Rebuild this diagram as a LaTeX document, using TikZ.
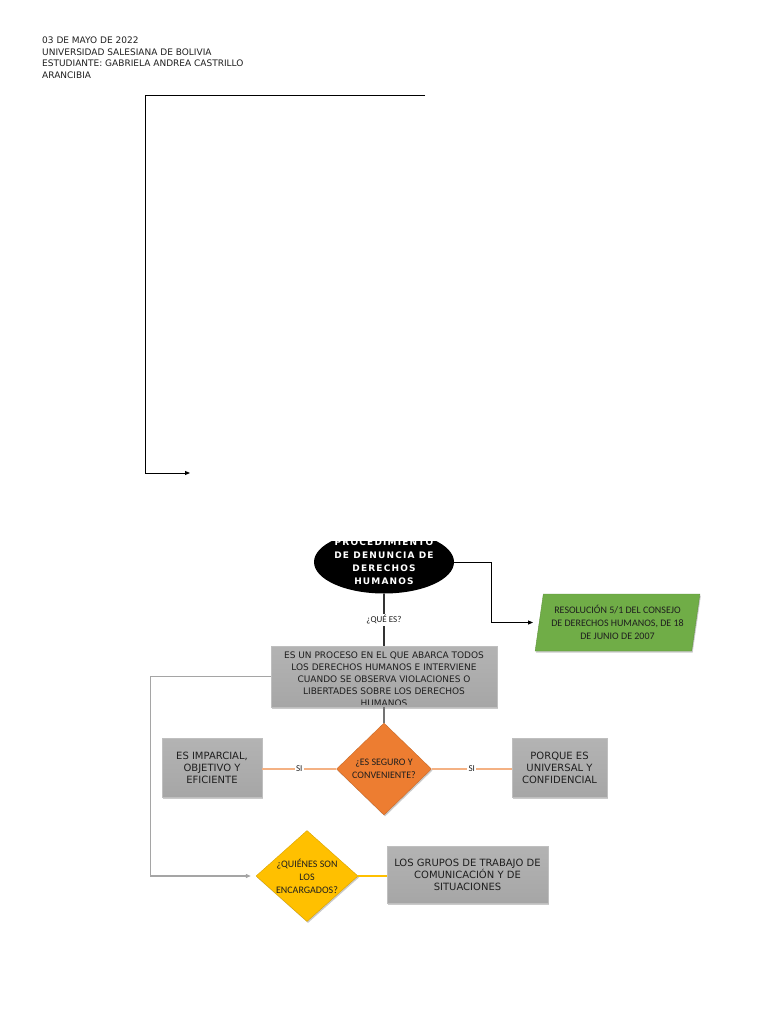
\documentclass[tikz,border=0pt]{standalone}
\usepackage{fontspec}
\setmainfont{DejaVu Sans}
\newfontfamily\calib{Carlito}
\newfontfamily\titlefont[LetterSpace=13]{DejaVu Sans}
\usepackage{tikz}
\usetikzlibrary{arrows.meta,shapes.geometric,shadows}
\definecolor{boxgray}{HTML}{A6A6A6}
\definecolor{edgegray}{HTML}{BFBFBF}
\definecolor{linegray}{HTML}{A5A5A5}
\definecolor{dorange}{HTML}{ED7D31}
\definecolor{lorange}{HTML}{F4B183}
\definecolor{dyellow}{HTML}{FFC000}
\definecolor{dgreen}{HTML}{70AD47}
\definecolor{txt}{HTML}{1F1F1F}

\begin{document}
\begin{tikzpicture}[x=1pt, y=-1pt,
  shade/.style={drop shadow={shadow xshift=1pt, shadow yshift=-1.5pt, opacity=0.35, fill=black!60}},
  gbox/.style={draw=edgegray, top color=boxgray!85, bottom color=boxgray, shade,
    inner sep=0pt, align=center, text=txt, font=\fontsize{10}{12}\selectfont},
  etext/.style={text=white, align=center, font=\titlefont\bfseries\fontsize{9}{13}\selectfont},
  dtext/.style={text=txt, align=center, font=\calib\fontsize{10}{13}\selectfont},
  decide/.style={diamond, inner sep=0pt, shade, draw=#1!85!black, fill=#1},
  arr/.style={-{Triangle[length=5pt, width=4pt]}, line width=0.9pt, black},
  grayarr/.style={-{Triangle[length=5pt, width=4pt]}, line width=1.2pt, linegray},
  silabel/.style={fill=white, inner sep=1.5pt, text=txt, font=\calib\fontsize{9}{10}\selectfont},
]
\useasboundingbox (0,0) rectangle (768,1024);

% encabezado
\node[anchor=north west, inner sep=0pt, align=left, text=txt,
  font=\fontsize{9}{11.5}\selectfont] (head) at (42,37)
  {03 DE MAYO DE 2022\\UNIVERSIDAD SALESIANA DE BOLIVIA\\ESTUDIANTE: GABRIELA ANDREA CASTRILLO\\ARANCIBIA};

% conector suelto
\coordinate (topend) at (425,95);
\coordinate (corner) at (145,95);
\coordinate (loose) at (190,473);
\draw[arr] (topend) -- (corner) |- (loose);

% titulo (recortado arriba)
\begin{scope}
\clip (0,541) rectangle (768,1024);
\node[ellipse, fill=black, minimum width=140, minimum height=63, inner sep=0pt,
  label={[etext]center:PROCEDIMIENTO\\DE DENUNCIA DE\\DERECHOS\\HUMANOS}] (title) at (384,562) {};
\end{scope}

\node[trapezium, trapezium left angle=78, trapezium right angle=102, trapezium stretches=true,
  minimum width=165, minimum height=57, inner sep=0pt, fill=dgreen, draw=dgreen!85!black, shade,
  align=center, text=txt, font=\calib\fontsize{10}{13}\selectfont] (res) at (617.5,622.5)
  {RESOLUCIÓN 5/1 DEL CONSEJO\\DE DERECHOS HUMANOS, DE 18\\DE JUNIO DE 2007};

% caja principal, ultima linea cortada
\node[gbox, minimum width=226, minimum height=61] (what) at (384,676.5) {};
\begin{scope}
\clip ([yshift=3]what.south west) rectangle (what.north east);
\node[anchor=north, inner sep=0pt, align=center, text=txt, font=\fontsize{9}{12}\selectfont]
  at ([yshift=-6]what.north)
  {ES UN PROCESO EN EL QUE ABARCA TODOS\\LOS DERECHOS HUMANOS E INTERVIENE\\CUANDO SE OBSERVA VIOLACIONES O\\LIBERTADES SOBRE LOS DERECHOS\\HUMANOS};
\end{scope}

\node[decide=dorange, minimum width=95, minimum height=92,
  label={[dtext]center:¿ES SEGURO Y\\CONVENIENTE?}] (safe) at (384,769) {};
\node[gbox, minimum width=100, minimum height=59] (fair) at (212,767.5) {ES IMPARCIAL,\\OBJETIVO Y\\EFICIENTE};
\node[gbox, minimum width=95, minimum height=59] (univ) at (559.5,767.5) {PORQUE ES\\UNIVERSAL Y\\CONFIDENCIAL};

\node[decide=dyellow, minimum width=102, minimum height=91,
  label={[dtext]center:¿QUIÉNES SON\\LOS\\ENCARGADOS?}] (who) at (307,876) {};
\node[gbox, minimum width=161, minimum height=57] (groups) at (467.5,874.5) {LOS GRUPOS DE TRABAJO DE\\COMUNICACIÓN Y DE\\SITUACIONES};

% conectores
\draw[line width=1.2pt, black!80] (title.south) -- node[fill=white, inner sep=1.5pt, text=txt,
  font=\calib\fontsize{9}{10}\selectfont] {¿QUÉ ES?} (what.north);
\draw[arr] (title.east) -- ++(37,0) |- ([xshift=-6]res.west);
\draw[line width=1.2pt, black!55] (what.south) -- (safe.north);
\draw[line width=1.5pt, lorange] (safe.west) -- node[silabel] {SI} (safe.west -| fair.east);
\draw[line width=1.5pt, lorange] (safe.east) -- node[silabel] {SI} (safe.east -| univ.west);
\draw[grayarr] (what.west) -- ++(-120,0) |- ([xshift=-5]who.west);
\draw[line width=1.5pt, dyellow] (who.east) -- (who.east -| groups.west);
\end{tikzpicture}
\end{document}
